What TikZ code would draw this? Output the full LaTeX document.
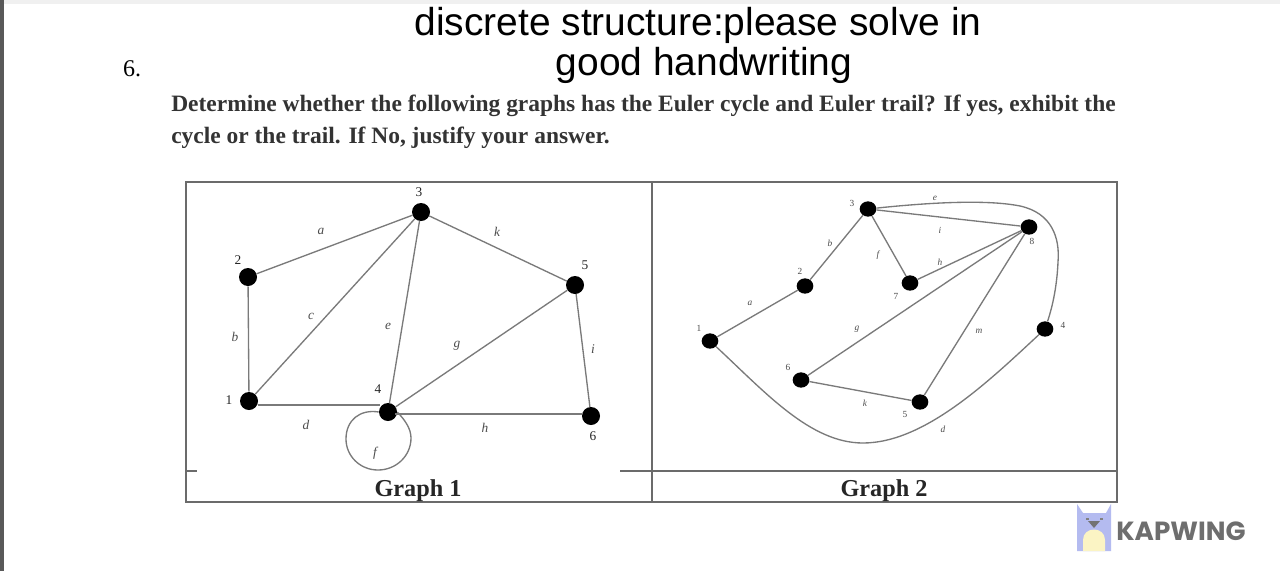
\documentclass[tikz,border=0pt]{standalone}
\usepackage{fontspec}
\setmainfont{Liberation Serif}
\newfontfamily\titlefont{Liberation Sans}
\newfontfamily\logofont{Poppins}
\usetikzlibrary{shapes.geometric}
\definecolor{edgegray}{gray}{0.48}
\definecolor{framegray}{gray}{0.42}
\definecolor{labelgray}{gray}{0.3}
\definecolor{catblue}{HTML}{B4BBF0}
\definecolor{catcream}{HTML}{FBF4C4}
\definecolor{logogray}{HTML}{6E6E6E}
\tikzset{
  x=0.75pt,y=-0.75pt,
  dotnode/.style={circle,fill=black,draw=none,minimum size=13.5pt,inner sep=0pt},
  dotsmall/.style={ellipse,fill=black,draw=none,minimum width=12.5pt,minimum height=11.5pt,inner sep=0pt},
  edgeline/.style={draw=edgegray,line width=1pt},
  frameline/.style={draw=framegray,line width=1.2pt},
  numA/.style={font=\fontsize{10pt}{10pt}\selectfont,text=black!85,inner sep=0pt},
  numB/.style={font=\fontsize{7pt}{7pt}\selectfont,text=labelgray,inner sep=0pt},
  edgeA/.style={font=\fontsize{10pt}{10pt}\selectfont\itshape,text=labelgray,inner sep=0pt},
  edgeB/.style={font=\fontsize{7pt}{7pt}\selectfont\itshape,text=labelgray,inner sep=0pt},
  captionnode/.style={font=\fontsize{18.2pt}{19pt}\selectfont\bfseries,text=black!85,inner sep=0pt},
  titlenode/.style={font=\titlefont\fontsize{29.2pt}{31pt}\selectfont,text=black,inner sep=0pt},
  bodynode/.style={font=\fontsize{17.6pt}{20pt}\selectfont\bfseries,text=black!80,inner sep=0pt,anchor=base west},
}
\begin{document}
\begin{tikzpicture}
\useasboundingbox (0,0) rectangle (1280,571);
\fill[white] (0,0) rectangle (1280,571);
\fill[gray!12] (0,0) rectangle (1280,4);
\fill[black!65] (0,0) rectangle (4,571);

% heading
\node[titlenode] (t1) at (698,25) {discrete structure:please solve in};
\node[titlenode] (t2) at (704,65) {good handwriting};
\node[font=\fontsize{18pt}{20pt}\selectfont,inner sep=0pt] (six) at (132,69) {6.};
\node[bodynode] (b1) at (171,111) {Determine whether the following graphs has the Euler cycle and Euler trail? If yes, exhibit the};
\node[bodynode] (b2) at (171,143) {cycle or the trail. If No, justify your answer.};

% frames
\coordinate (fTL) at (186,182);
\coordinate (fBR) at (1117,502);
\coordinate (mT) at (652,182);
\coordinate (mB) at (652,502);
\coordinate (hA) at (186,471);
\coordinate (hB) at (197,471);
\coordinate (hC) at (620,471);
\coordinate (hD) at (1117,471);
\draw[frameline] (fTL) rectangle (fBR);
\draw[frameline] (mT) -- (mB);
\draw[frameline] (hA) -- (hB);
\draw[frameline] (hC) -- (hD);
\node[captionnode] (c1) at (418,491) {Graph 1};
\node[captionnode] (c2) at (884,491) {Graph 2};

% Graph 1
\node[dotnode] (a1) at (249,401) {};
\node[dotnode] (a2) at (248,277) {};
\node[dotnode] (a3) at (421,212) {};
\node[dotnode] (a4) at (388,412) {};
\node[dotnode] (a5) at (575,285) {};
\node[dotnode] (a6) at (591,416) {};
\coordinate (a1r) at (258,405);
\coordinate (a4l) at (380,405);
\coordinate (a4r) at (395,414);
\coordinate (a6l) at (582,414);
\draw[edgeline] (a2) -- (a3);
\draw[edgeline] (a2) -- (a1);
\draw[edgeline] (a1) -- (a3);
\draw[edgeline] (a3) -- (a4);
\draw[edgeline] (a3) -- (a5);
\draw[edgeline] (a4) -- (a5);
\draw[edgeline] (a5) -- (a6);
\draw[edgeline] (a1r) -- (a4l);
\draw[edgeline] (a4r) -- (a6l);
\draw[edgeline] (a4.west) .. controls (360,409) and (346,420) .. (346,439)
   .. controls (346,456) and (360,470) .. (378,470)
   .. controls (396,470) and (411,456) .. (411,438)
   .. controls (411,428) and (404,419) .. (a4.east);
\node[numA] (n1a) at (229,400) {1};
\node[numA] (n2a) at (238,260) {2};
\node[numA] (n3a) at (419,192) {3};
\node[numA] (n4a) at (378,389) {4};
\node[numA] (n5a) at (585,265) {5};
\node[numA] (n6a) at (593,436) {6};
\node[edgeA] (ea) at (321,231) {a};
\node[edgeA] (eb) at (235,337) {b};
\node[edgeA] (ec) at (311,316) {c};
\node[edgeA] (ed) at (306,425) {d};
\node[edgeA] (ee) at (388,326) {e};
\node[edgeA] (ef) at (375,453) {f};
\node[edgeA] (eg) at (457,346) {g};
\node[edgeA] (eh) at (485,428) {h};
\node[edgeA] (ei) at (593,349) {i};
\node[edgeA] (ek) at (497,232) {k};

% Graph 2
\node[dotsmall] (b1n) at (710,341) {};
\node[dotsmall] (b2n) at (805,286) {};
\node[dotsmall] (b3n) at (868,209) {};
\node[dotsmall] (b4n) at (1045,329) {};
\node[dotsmall] (b5n) at (920,402) {};
\node[dotsmall] (b6n) at (801,380) {};
\node[dotsmall] (b7n) at (910,283) {};
\node[dotsmall] (b8n) at (1029,227) {};
\draw[edgeline] (b1n) -- (b2n);
\draw[edgeline] (b2n) -- (b3n);
\draw[edgeline] (b3n) -- (b7n);
\draw[edgeline] (b3n) -- (b8n);
\draw[edgeline] (b7n) -- (b8n);
\draw[edgeline] (b6n) -- (b8n);
\draw[edgeline] (b5n) -- (b8n);
\draw[edgeline] (b6n) -- (b5n);
\draw[edgeline] (b3n) .. controls (925,203) and (985,199) .. (1020,206)
   .. controls (1052,213) and (1060,238) .. (1058,262)
   .. controls (1057,285) and (1053,305) .. (b4n);
\draw[edgeline] (b1n) .. controls (765,392) and (810,443) .. (863,443)
   .. controls (925,443) and (990,380) .. (b4n);
\node[numB] (n1b) at (699,328) {1};
\node[numB] (n2b) at (800,271) {2};
\node[numB] (n3b) at (852,203) {3};
\node[numB] (n4b) at (1063,325) {4};
\node[numB] (n5b) at (905,414) {5};
\node[numB] (n6b) at (788,367) {6};
\node[numB] (n7b) at (896,296) {7};
\node[numB] (n8b) at (1032,241) {8};
\node[edgeB] (fa) at (750,303) {a};
\node[edgeB] (fb) at (830,243) {b};
\node[edgeB] (fd) at (943,429) {d};
\node[edgeB] (fe) at (935,198) {e};
\node[edgeB] (ff) at (878,255) {f};
\node[edgeB] (fg) at (857,329) {g};
\node[edgeB] (fh) at (940,262) {h};
\node[edgeB] (fi) at (940,230) {i};
\node[edgeB] (fk) at (865,403) {k};
\node[edgeB] (fm) at (979,331) {m};

% logo
\fill[catblue] (1077,504) -- (1083,513) -- (1106,513) -- (1111,504) -- (1111,551) -- (1077,551) -- cycle;
\fill[catcream] (1083,551) -- (1083,540) .. controls (1083,526) and (1105,526) .. (1105,540) -- (1105,551) -- cycle;
\fill[black!55] (1088,521) -- (1100,521) -- (1094,528) -- cycle;
\fill[black!50] (1086,518) rectangle (1089,520);
\fill[black!50] (1100,518) rectangle (1103,520);
\node[font=\logofont\bfseries\fontsize{19.7pt}{20pt}\selectfont,text=logogray,inner sep=0pt] (logo) at (1181,531) {KAPWING};
\end{tikzpicture}
\end{document}
